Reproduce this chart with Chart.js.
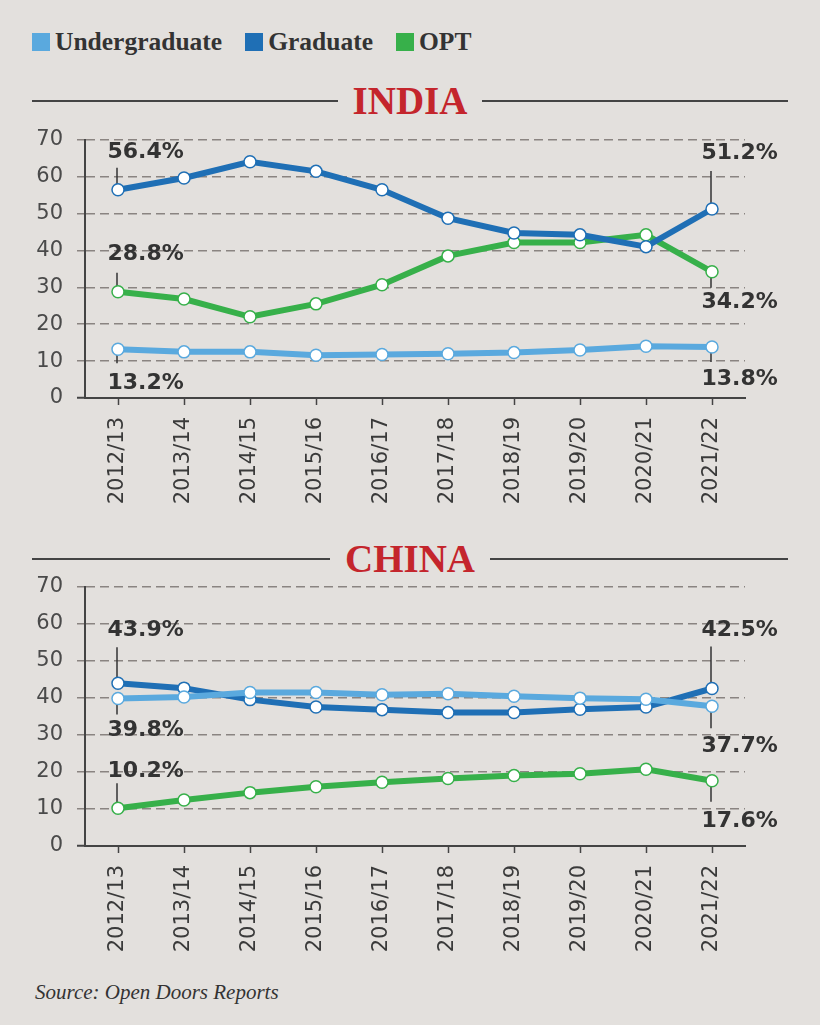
<!DOCTYPE html>
<html>
<head>
<meta charset="utf-8">
<script src="https://cdn.jsdelivr.net/npm/chart.js@4.4.1/dist/chart.umd.min.js"></script>
<style>
    body { margin: 0; background: #e3e0dd; width: 820px; height: 1025px; position: relative; overflow: hidden; }
    .legend { position: absolute; left: 32px; top: 27px; display: flex; font: bold 25.5px "Liberation Serif"; color: #333; }
    .legend span { display: flex; align-items: center; margin-right: 23px; }
    .legend i { width: 18px; height: 18px; margin-right: 5px; display: inline-block; }
    .head { position: absolute; left: 32px; width: 756px; display: flex; align-items: center; }
    .head::before, .head::after { content: ''; flex: 1; height: 2px; background: #444; }
    .head b { font: bold 39px "Liberation Serif"; color: #c4252c; margin: 0 15px; line-height: 1; }
    .chart { position: absolute; left: 0; }
    .source { position: absolute; left: 35px; top: 980px; font: italic 21px "Liberation Serif"; color: #333; }
</style>
</head>
<body>
<div class="legend">
    <span><i style="background:#5aa9de"></i>Undergraduate</span>
    <span><i style="background:#1f6fb5"></i>Graduate</span>
    <span><i style="background:#37b04a"></i>OPT</span>
</div>
<div class="head" style="top:81px"><b>INDIA</b></div>
<canvas id="indiaChart" class="chart" width="820" height="407" style="top:113px"></canvas>
<div class="head" style="top:539px"><b>CHINA</b></div>
<canvas id="chinaChart" class="chart" width="820" height="408" style="top:560px"></canvas>
<div class="source">Source: Open Doors Reports</div>

<script>
const years = ['2012/13', '2013/14', '2014/15', '2015/16', '2016/17', '2017/18', '2018/19', '2019/20', '2020/21', '2021/22'];
const seriesNames = ['Undergraduate', 'Graduate', 'OPT'];
const seriesColors = ['#5aa9de', '#1f6fb5', '#37b04a'];

const indiaUndergrad = [13.2, 12.5, 12.5, 11.6, 11.8, 12.0, 12.3, 13.0, 14.0, 13.8];
const indiaGraduate = [56.4, 59.6, 64.0, 61.4, 56.4, 48.7, 44.7, 44.2, 41.0, 51.2];
const indiaOpt = [28.8, 26.8, 22.0, 25.5, 30.7, 38.5, 42.1, 42.1, 44.2, 34.2];

const chinaUndergrad = [39.8, 40.2, 41.4, 41.4, 40.8, 41.1, 40.4, 39.9, 39.6, 37.7];
const chinaGraduate = [43.9, 42.6, 39.5, 37.5, 36.8, 36.0, 36.0, 36.9, 37.5, 42.5];
const chinaOpt = [10.2, 12.4, 14.4, 16.0, 17.2, 18.2, 19.0, 19.5, 20.7, 17.6];

const yMax = 70;
const yStep = 10;

// callouts: which point gets a label, and where the text / leader sit (px offsets from the point)
const indiaCallouts = [
    { ds: 1, i: 0, dy: -38, from: -22, to: 0 },
    { ds: 2, i: 0, dy: -37, from: -19, to: 0 },
    { ds: 0, i: 0, dy: 34, from: 0, to: 14 },
    { ds: 1, i: 9, dy: -56, from: -38, to: 0 },
    { ds: 2, i: 9, dy: 31, from: 0, to: 16 },
    { ds: 0, i: 9, dy: 32, from: 0, to: 15 },
];
const chinaCallouts = [
    { ds: 1, i: 0, dy: -53, from: -36, to: 0 },
    { ds: 0, i: 0, dy: 32, from: 0, to: 16 },
    { ds: 2, i: 0, dy: -37, from: -25, to: 0 },
    { ds: 1, i: 9, dy: -58, from: -42, to: 0 },
    { ds: 0, i: 9, dy: 40, from: 0, to: 22 },
    { ds: 2, i: 9, dy: 41, from: 0, to: 21 },
];

const TICK_FONT = 'DejaVu Sans';
const GRID_COLOR = '#8a8481';
const AXIS_COLOR = '#444';

const calloutPlugin = {
    id: 'callouts',
    beforeDatasetsDraw(chart, args, opts) {
        const ctx = chart.ctx;
        ctx.save();
        ctx.strokeStyle = '#333';
        ctx.lineWidth = 1.5;
        opts.items.forEach((c) => {
            const pt = chart.getDatasetMeta(c.ds).data[c.i];
            ctx.beginPath();
            ctx.moveTo(pt.x - 1, pt.y + c.from);
            ctx.lineTo(pt.x - 1, pt.y + c.to);
            ctx.stroke();
        });
        ctx.restore();
    },
    afterDatasetsDraw(chart, args, opts) {
        const ctx = chart.ctx;
        ctx.save();
        ctx.fillStyle = '#333';
        ctx.font = 'bold 22px "DejaVu Sans"';
        ctx.textAlign = 'left';
        ctx.textBaseline = 'middle';
        opts.items.forEach((c) => {
            const pt = chart.getDatasetMeta(c.ds).data[c.i];
            const value = chart.data.datasets[c.ds].data[c.i];
            ctx.fillText(value.toFixed(1) + '%', pt.x - 10.5, pt.y + c.dy);
        });
        ctx.restore();
    },
};

function makeChart(canvasId, seriesData, callouts) {
    const ctx = document.getElementById(canvasId).getContext('2d');
    return new Chart(ctx, {
        type: 'line',
        data: {
            labels: years,
            datasets: seriesData.map((values, k) => ({
                label: seriesNames[k],
                data: values,
                borderColor: seriesColors[k],
                borderWidth: 6,
                pointRadius: 6,
                pointBorderWidth: 1.5,
                pointBackgroundColor: '#fff',
                pointBorderColor: seriesColors[k],
                tension: 0,
                clip: false,
            })),
        },
        options: {
            responsive: false,
            animation: false,
            devicePixelRatio: 1,
            // top space comes from the y labels (half label height + tick padding)
            layout: { padding: { top: 0, right: 75, left: 0, bottom: 0 } },
            plugins: {
                legend: { display: false },
                tooltip: { enabled: false },
                callouts: { items: callouts },
            },
            scales: {
                x: {
                    offset: true,
                    ticks: {
                        autoSkip: false,
                        minRotation: 90,
                        maxRotation: 90,
                        padding: 12,
                        color: '#3a3a3a',
                        font: { family: TICK_FONT, size: 21 },
                    },
                    grid: { drawOnChartArea: false, tickLength: 7, tickColor: AXIS_COLOR, tickWidth: 1.5 },
                    border: { color: AXIS_COLOR, width: 2 },
                    afterFit: (scale) => { scale.height = 122; },
                },
                y: {
                    min: 0,
                    max: yMax,
                    ticks: {
                        stepSize: yStep,
                        padding: 14,
                        color: '#4a4a4a',
                        font: { family: TICK_FONT, size: 21 },
                    },
                    grid: {
                        color: (c) => (c.tick.value === 0 ? 'transparent' : GRID_COLOR),
                        lineWidth: 1.5,
                        tickLength: 8,
                        tickColor: (c) => (c.tick.value === 0 ? AXIS_COLOR : GRID_COLOR),
                        tickWidth: (c) => (c.tick.value === 0 ? 2 : 1.5),
                    },
                    border: { color: AXIS_COLOR, width: 2, dash: [9, 5] },
                    afterFit: (scale) => { scale.width = 85; },
                },
            },
        },
        plugins: [calloutPlugin],
    });
}

makeChart('indiaChart', [indiaUndergrad, indiaGraduate, indiaOpt], indiaCallouts);
makeChart('chinaChart', [chinaUndergrad, chinaGraduate, chinaOpt], chinaCallouts);
</script>
</body>
</html>
